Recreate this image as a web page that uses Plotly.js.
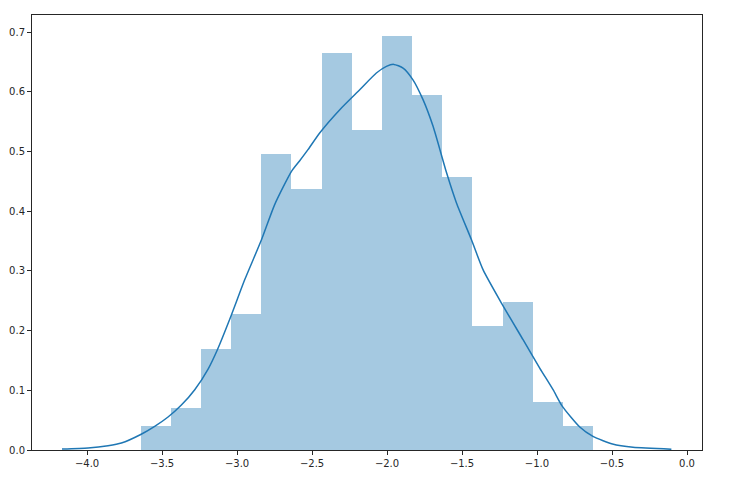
<!DOCTYPE html>
<html>
<head>
<meta charset="utf-8">
<script src="https://cdn.plot.ly/plotly-3.0.1.min.js"></script>
<style>html,body{margin:0;padding:0;background:#fff;}#chart{width:732px;height:483px;}</style>
</head>
<body>
<div id="chart"></div>
<script>
// Histogram bin edges
const binEdges = [-3.642, -3.441, -3.240, -3.039, -2.838, -2.637, -2.436, -2.235,
                  -2.034, -1.833, -1.632, -1.431, -1.230, -1.030, -0.829, -0.628];
// Histogram densities per bin
const binDensity = [0.0405, 0.0705, 0.1695, 0.2285, 0.4965, 0.4375, 0.6655, 0.5365,
                    0.6940, 0.5950, 0.4565, 0.2085, 0.2485, 0.0805, 0.0405];
// KDE curve points
const kdeX = [-4.167, -3.993, -3.86, -3.771, -3.642, -3.549, -3.46, -3.371, -3.282, -3.193,
              -3.131, -3.037, -2.949, -2.837, -2.749, -2.637, -2.582, -2.527, -2.449, -2.315,
              -2.182, -2.071, -2.004, -1.955, -1.893, -1.827, -1.76, -1.693, -1.604, -1.537,
              -1.437, -1.36, -1.237, -1.093, -0.982, -0.893, -0.831, -0.715, -0.627, -0.497,
              -0.36, -0.104];
const kdeY = [0.0015, 0.0033, 0.0072, 0.0117, 0.026, 0.0396, 0.0553, 0.0753, 0.101, 0.1356,
              0.168, 0.2266, 0.285, 0.352, 0.411, 0.4666, 0.4845, 0.503, 0.531, 0.570,
              0.6034, 0.6314, 0.6425, 0.6458, 0.6397, 0.620, 0.5867, 0.542, 0.465, 0.4137,
              0.352, 0.302, 0.246, 0.1847, 0.1373, 0.101, 0.073, 0.0385, 0.0228, 0.010,
              0.0044, 0.0012];
const xTicks = [-4.0, -3.5, -3.0, -2.5, -2.0, -1.5, -1.0, -0.5, 0.0];
const yTicks = [0.0, 0.1, 0.2, 0.3, 0.4, 0.5, 0.6, 0.7];

const centers = [], widths = [];
for (let i = 0; i < binDensity.length; i++) {
  centers.push((binEdges[i] + binEdges[i + 1]) / 2);
  widths.push(binEdges[i + 1] - binEdges[i]);
}

const traces = [
  {
    type: 'bar', x: centers, y: binDensity, width: widths,
    marker: {color: 'rgba(31,119,180,0.4)', line: {width: 0}},
    hoverinfo: 'skip', showlegend: false
  },
  {
    type: 'scatter', mode: 'lines', x: kdeX, y: kdeY,
    line: {color: '#1f77b4', width: 1.5, shape: 'spline', smoothing: 0.6},
    showlegend: false
  }
];

const axisCommon = {
  showline: true, mirror: true, linecolor: '#262626', linewidth: 1,
  ticks: 'outside', ticklen: 4, tickwidth: 1, tickcolor: '#262626',
  showgrid: false, zeroline: false,
  tickfont: {family: 'DejaVu Sans', size: 10, color: '#262626'}
};

const layout = {
  width: 732, height: 483,
  margin: {l: 32, r: 30, t: 15, b: 33, pad: 0},
  paper_bgcolor: '#fff', plot_bgcolor: '#fff',
  bargap: 0,
  xaxis: Object.assign({}, axisCommon, {
    range: [-4.367, 0.1], tickmode: 'array', tickvals: xTicks,
    ticktext: xTicks.map(v => v.toFixed(1).replace('-', '\u2212'))
  }),
  yaxis: Object.assign({}, axisCommon, {
    range: [0, 0.7285], tickmode: 'array', tickvals: yTicks,
    ticktext: yTicks.map(v => v.toFixed(1))
  })
};

Plotly.newPlot('chart', traces, layout, {staticPlot: true, displayModeBar: false});
</script>
</body>
</html>
